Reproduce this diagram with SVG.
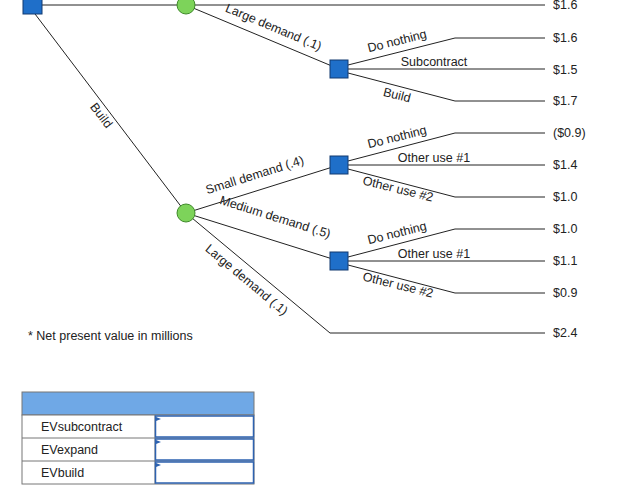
<svg xmlns="http://www.w3.org/2000/svg" width="633" height="501" viewBox="0 0 633 501">
<style>
.l{stroke:#222;stroke-width:1;fill:none}
.d{fill:#1f6fc9;stroke:#123a70;stroke-width:1}
.c{fill:#7dd35a;stroke:#3f8a2a;stroke-width:1}
text{font-family:"Liberation Sans",Arial,sans-serif;font-size:12.5px;fill:#222}
</style>
<rect width="633" height="501" fill="#fff"/>
<g id="connectors">
<path class="l" d="M32 5H186M186 5H545M186 5L339 69M348 65L455 38H545M348 69H545M348 73L455 101H545"/>
<path class="l" d="M32 10L186 213M186 213L339 165M186 213L339 261M186 213L330 333H545"/>
<path class="l" d="M348 161L455 133H545M348 165H545M348 169L455 197H545"/>
<path class="l" d="M348 257L455 229H545M348 261H545M348 265L455 293H545"/>
</g>
<g id="n1"><rect class="d" x="23" y="-5" width="19" height="19"/></g>
<g id="n2"><circle class="c" cx="186" cy="5" r="9"/></g>
<g id="n3"><rect class="d" x="330" y="60" width="18" height="18"/></g>
<g id="n4"><circle class="c" cx="186" cy="213" r="9"/></g>
<g id="n5"><rect class="d" x="330" y="156" width="18" height="18"/></g>
<g id="n6"><rect class="d" x="330" y="252" width="18" height="18"/></g>
<g id="labels">
<text transform="translate(272,31) rotate(22.7)" text-anchor="middle">Large demand (.1)</text>
<text transform="translate(98,118) rotate(52.7)" text-anchor="middle">Build</text>
<text transform="translate(256,179) rotate(-17.4)" text-anchor="middle">Small demand (.4)</text>
<text transform="translate(274,221) rotate(17.4)" text-anchor="middle">Medium demand (.5)</text>
<text transform="translate(244,283) rotate(39.8)" text-anchor="middle">Large demand (.1)</text>
<text transform="translate(398,45) rotate(-14)" text-anchor="middle">Do nothing</text>
<text x="434" y="66" text-anchor="middle">Subcontract</text>
<text transform="translate(396,99) rotate(14)" text-anchor="middle">Build</text>
<text transform="translate(398,141) rotate(-14)" text-anchor="middle">Do nothing</text>
<text x="434" y="162" text-anchor="middle">Other use #1</text>
<text transform="translate(397,193) rotate(14)" text-anchor="middle">Other use #2</text>
<text transform="translate(398,237) rotate(-14)" text-anchor="middle">Do nothing</text>
<text x="434" y="258" text-anchor="middle">Other use #1</text>
<text transform="translate(397,289) rotate(14)" text-anchor="middle">Other use #2</text>
<text x="553" y="9">$1.6</text>
<text x="553" y="42">$1.6</text>
<text x="553" y="74">$1.5</text>
<text x="553" y="105">$1.7</text>
<text x="553" y="137">($0.9)</text>
<text x="553" y="169">$1.4</text>
<text x="553" y="201">$1.0</text>
<text x="553" y="233">$1.0</text>
<text x="553" y="265">$1.1</text>
<text x="553" y="297">$0.9</text>
<text x="553" y="337">$2.4</text>
<text x="28" y="340">* Net present value in millions</text>
</g>
<g id="table">
<rect x="22" y="392" width="232" height="23" fill="#6fa8e6" stroke="#777"/>
<rect x="22" y="415" width="232" height="69" fill="#fff" stroke="#777"/>
<path d="M22 438H254M22 461H254M155 415V484" stroke="#777" fill="none"/>
<rect x="155.5" y="416" width="98" height="21" fill="#fff" stroke="#2d62b0" stroke-width="1.5"/>
<rect x="155.5" y="439" width="98" height="21" fill="#fff" stroke="#2d62b0" stroke-width="1.5"/>
<rect x="155.5" y="462" width="98" height="21" fill="#fff" stroke="#2d62b0" stroke-width="1.5"/>
<path d="M156 417l5 2l-5 2zM156 440l5 2l-5 2zM156 463l5 2l-5 2z" fill="#2d62b0"/>
<text x="41" y="431">EVsubcontract</text>
<text x="41" y="454">EVexpand</text>
<text x="41" y="477">EVbuild</text>
</g>
</svg>
